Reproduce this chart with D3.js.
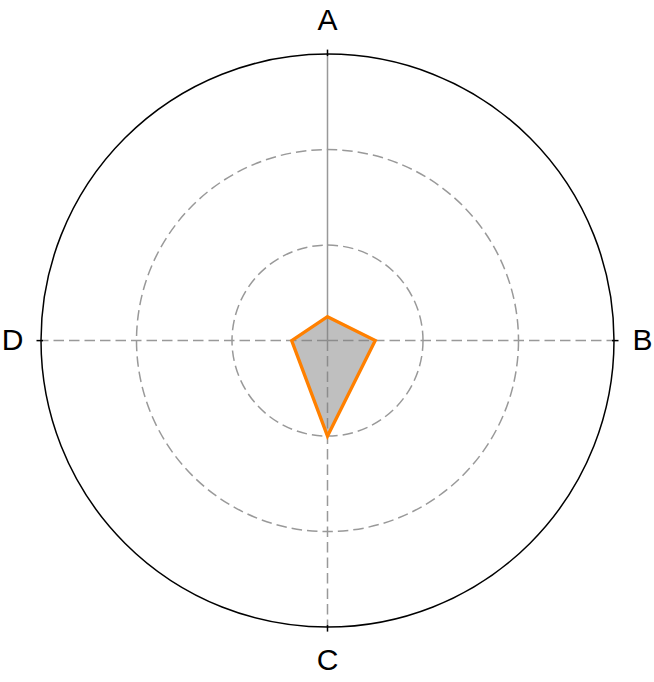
<!DOCTYPE html>
<html>
<head>
<meta charset="utf-8">
<script src="https://cdn.jsdelivr.net/npm/d3@7"></script>
<style>
  body { margin: 0; background: #fff; }
  text { font-family: "Liberation Sans", Arial, sans-serif; }
</style>
</head>
<body>
<div id="chart"></div>
<script>
const categories = ['A', 'B', 'C', 'D'];
const values = [1, 2, 4, 1.5];
const ringLevels = [4, 8];
const maxValue = 12;

const width = 654;
const height = 682;
const cx = 327.5;
const cy = 340.6;
const radius = 286.5;

const svg = d3.select('#chart')
  .append('svg')
  .attr('width', width)
  .attr('height', height);

const g = svg.append('g')
  .attr('transform', `translate(${cx}, ${cy})`);

/* Scales */
const rScale = d3.scaleLinear().domain([0, maxValue]).range([0, radius]);
const angle = d3.scalePoint()
  .domain(categories.concat(['_end']))
  .range([0, 2 * Math.PI]);

const px = (a, r) => r * Math.sin(a);
const py = (a, r) => -r * Math.cos(a);

/* Grid rings */
g.selectAll('.ring')
  .data(ringLevels)
  .enter()
  .append('circle')
  .attr('class', 'ring')
  .attr('r', (d) => rScale(d))
  .style('fill', 'none')
  .style('stroke', '#999')
  .style('stroke-width', 1.5)
  .style('stroke-dasharray', '10.5,5');

/* Spokes */
g.selectAll('.spoke')
  .data(categories)
  .enter()
  .append('line')
  .attr('class', 'spoke')
  .attr('x1', 0)
  .attr('y1', 0)
  .attr('x2', (d) => px(angle(d), radius))
  .attr('y2', (d) => py(angle(d), radius))
  .style('stroke', '#999')
  .style('stroke-width', 1.5)
  .style('stroke-dasharray', (d, i) => (i === 0 ? null : '10.5,5'));

/* Data polygon */
const radial = d3.lineRadial()
  .angle((d, i) => angle(categories[i]))
  .radius((d) => rScale(d))
  .curve(d3.curveLinearClosed);

g.append('path')
  .attr('d', radial(values))
  .style('fill', 'gray')
  .style('fill-opacity', 0.5)
  .style('stroke', '#ff8000')
  .style('stroke-width', 3.3)
  .attr('stroke-linejoin', 'miter');

/* Outer frame */
g.append('circle')
  .attr('r', radius)
  .style('fill', 'none')
  .style('stroke', '#000')
  .style('stroke-width', 1.5);

/* Ticks */
g.selectAll('.tick')
  .data(categories)
  .enter()
  .append('line')
  .attr('class', 'tick')
  .attr('x1', (d) => px(angle(d), radius - 2))
  .attr('y1', (d) => py(angle(d), radius - 2))
  .attr('x2', (d) => px(angle(d), radius + 4.5))
  .attr('y2', (d) => py(angle(d), radius + 4.5))
  .style('stroke', '#000')
  .style('stroke-width', 1.5);

/* Labels */
g.selectAll('.label')
  .data(categories)
  .enter()
  .append('text')
  .attr('class', 'label')
  .attr('x', (d) => px(angle(d), 315))
  .attr('y', (d) => py(angle(d), 320) + 9)
  .attr('text-anchor', 'middle')
  .style('font-size', '30px')
  .style('fill', '#000')
  .text((d) => d);
</script>
</body>
</html>
